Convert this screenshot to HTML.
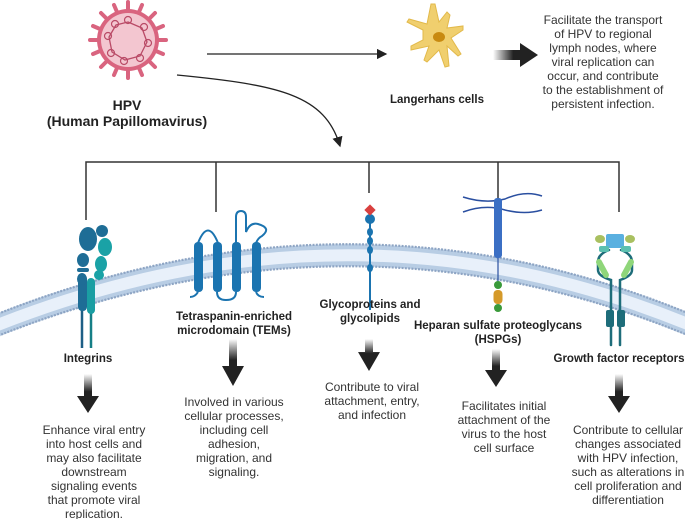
<!DOCTYPE html>
<html><head><meta charset="utf-8"><style>
html,body{margin:0;padding:0;background:#fff}
svg{display:block}
.t{font-family:"Liberation Sans Narrow","Liberation Sans",sans-serif;font-size:12px;fill:#333;text-anchor:middle}
.b{font-family:"Liberation Sans Narrow","Liberation Sans",sans-serif;font-size:11.5px;font-weight:bold;fill:#222;text-anchor:middle}
</style></head><body>
<svg width="685" height="519" viewBox="0 0 685 519" xmlns="http://www.w3.org/2000/svg">
<defs>
<linearGradient id="ag" x1="0" y1="0" x2="0" y2="1"><stop offset="0" stop-color="#fff"/><stop offset="0.45" stop-color="#222"/></linearGradient>
<linearGradient id="agh" x1="0" y1="0" x2="1" y2="0"><stop offset="0" stop-color="#fff"/><stop offset="0.45" stop-color="#222"/></linearGradient>
<marker id="m" markerWidth="8" markerHeight="8" refX="7" refY="4" orient="auto"><path d="M0,0 L8,4 L0,8 z" fill="#222"/></marker>
</defs>

<!-- virus -->
<g transform="translate(128,40)">
<g stroke="#d9647f" stroke-width="4" stroke-linecap="round">
<path d="M0,-38V-30M0,38V30M-38,0H-30M38,0H30M27,27L21,21M-27,-27L-21,-21M27,-27L21,-21M-27,27L-21,21M14,-35L11,-28M-14,35L-11,28M-14,-35L-11,-28M14,35L11,28M35,14L28,11M-35,-14L-28,-11M35,-14L28,-11M-35,14L-28,11"/>
</g>
<circle r="31" fill="#d9647f"/><circle r="27" fill="#f3c6d0"/>
<polygon points="0,-18 14,-12 19,2 12,16 -3,20 -16,12 -19,-3 -12,-15" fill="none" stroke="#b94a66" stroke-width="1.3"/>
<g fill="none" stroke="#b94a66" stroke-width="1.2"><circle cx="0" cy="-20" r="3.5"/><circle cx="16" cy="-13" r="3.5"/><circle cx="20" cy="3" r="3.5"/><circle cx="12" cy="18" r="3.5"/><circle cx="-4" cy="21" r="3.5"/><circle cx="-17" cy="13" r="3.5"/><circle cx="-20" cy="-4" r="3.5"/><circle cx="-13" cy="-16" r="3.5"/></g>
</g>
<text class="b" x="127" y="110" style="font-size:14px">HPV</text>
<text class="b" x="127" y="126" style="font-size:14px">(Human Papillomavirus)</text>

<line x1="207" y1="54" x2="386" y2="54" stroke="#222" stroke-width="1.3" marker-end="url(#m)"/>
<path d="M177,75 C280,85 325,95 340,146" fill="none" stroke="#222" stroke-width="1.3" marker-end="url(#m)"/>

<!-- Langerhans cell -->
<g transform="translate(437,40)" fill="#f0cf6e" stroke="#e2b94a" stroke-width="1">
<path d="M-14,-10 L-30,-18 L-28,-21 L-10,-16 L-6,-36 L-2,-36 L2,-18 L10,-28 L13,-25 L10,-12 L26,-14 L26,-10 L14,-2 L24,14 L21,16 L10,6 L12,26 L8,27 L2,10 L-10,22 L-13,20 L-8,6 L-26,10 L-26,6 L-14,0 z"/>
<ellipse cx="2" cy="-3" rx="6" ry="5" fill="#c88a10" stroke="none"/>
</g>
<text class="b" x="437" y="103">Langerhans cells</text>
<path d="M493,50 H520 V43 L538,55 L520,67 V60 H493 z" fill="url(#agh)"/>

<g class="t">
<text x="603" y="24">Facilitate the transport</text>
<text x="603" y="38">of HPV to regional</text>
<text x="603" y="52">lymph nodes, where</text>
<text x="603" y="66">viral replication can</text>
<text x="603" y="80">occur, and contribute</text>
<text x="603" y="94">to the establishment of</text>
<text x="603" y="108">persistent infection.</text>
</g>

<!-- bracket -->
<g stroke="#333" stroke-width="1.5" fill="none">
<path d="M86,220 V162 H619 V212"/>
<path d="M216,162 V212 M369,162 V193 M498,162 V198"/>
</g>

<!-- membrane -->
<path d="M-5,326 Q350,185 690,325" fill="none" stroke="#b8cde4" stroke-width="22"/>
<path d="M-5,326 Q350,185 690,325" fill="none" stroke="#e8f0fa" stroke-width="12"/>
<path d="M-5,315 Q350,174 690,314" fill="none" stroke="#8ea5c4" stroke-width="2.2" stroke-dasharray="2 1.3"/>
<path d="M-5,337 Q350,196 690,336" fill="none" stroke="#8ea5c4" stroke-width="2.2" stroke-dasharray="2 1.3"/>

<!-- integrin -->
<g>
<line x1="82" y1="300" x2="82" y2="348" stroke="#1e5f86" stroke-width="2.5"/>
<line x1="91" y1="300" x2="91" y2="348" stroke="#167f86" stroke-width="2.5"/>
<rect x="78" y="275" width="9" height="36" rx="4" fill="#1e6d96"/>
<rect x="87" y="278" width="8" height="36" rx="4" fill="#1a9ea3"/>
<ellipse cx="88" cy="239" rx="9" ry="12" fill="#1e6d96"/>
<circle cx="102" cy="231" r="6" fill="#1e6d96"/>
<ellipse cx="105" cy="247" rx="7" ry="9" fill="#1aa2a6"/>
<ellipse cx="83" cy="260" rx="6" ry="7" fill="#1e6d96"/>
<ellipse cx="101" cy="264" rx="6" ry="8" fill="#1aa2a6"/>
<rect x="77" y="268" width="12" height="4" rx="2" fill="#1e6d96"/>
<ellipse cx="82" cy="279" rx="5" ry="6" fill="#1e6d96"/>
<circle cx="99" cy="275" r="5" fill="#1aa2a6"/>
</g>

<!-- TEMs -->
<g fill="#1b74b0">
<rect x="194" y="242" width="9" height="50" rx="4"/>
<rect x="213" y="242" width="9" height="50" rx="4"/>
<rect x="232" y="242" width="9" height="50" rx="4"/>
<rect x="252" y="242" width="9" height="50" rx="4"/>
</g>
<g fill="none" stroke="#1b74b0" stroke-width="2">
<path d="M198,243 Q208,218 218,243"/>
<path d="M236,243 V217 Q236,211 241,211 Q246,211 246,217 V232 Q250,222 258,224 Q272,228 262,236 Q258,238 256,243"/>
<path d="M198,292 Q195,297 190,297 M217,292 Q217,300 226,300 Q236,300 236,292 M256,292 Q258,297 264,297"/>
</g>

<!-- glyco -->
<line x1="370" y1="220" x2="370" y2="310" stroke="#1b74b0" stroke-width="2"/>
<circle cx="370" cy="219" r="5" fill="#1b74b0"/>
<rect x="366" y="206" width="8" height="8" fill="#d9403f" transform="rotate(45 370 210)"/>
<g fill="#1b74b0"><ellipse cx="370" cy="232" rx="3" ry="4"/><ellipse cx="370" cy="241" rx="3" ry="4"/><ellipse cx="370" cy="250" rx="3" ry="4"/><ellipse cx="370" cy="268" rx="3" ry="4"/></g>

<!-- HSPG -->
<path d="M463,197 Q485,204 505,199 Q525,190 542,196 M463,212 Q485,204 505,210 Q525,215 542,210" fill="none" stroke="#2a4fa0" stroke-width="1.5"/>
<rect x="494" y="198" width="8" height="60" rx="3" fill="#3b6fc4"/>
<line x1="498" y1="258" x2="498" y2="283" stroke="#2a4fa0" stroke-width="1.2"/>
<circle cx="498" cy="285" r="4" fill="#3a9a3a"/>
<rect x="493.5" y="290" width="9" height="14" rx="4" fill="#d59a2a"/>
<circle cx="498" cy="308" r="4" fill="#3a9a3a"/>

<!-- growth factor receptor -->
<g fill="none" stroke-linecap="round">
<path d="M609,250 Q598,254 598,262 V270 Q598,276 611,280 V345" stroke="#1e6d7a" stroke-width="2.5"/>
<path d="M621,250 Q632,254 632,262 V270 Q632,276 620,280 V345" stroke="#1e6d7a" stroke-width="2.5"/>
<path d="M599,262 L606,275 M631,262 L624,275" stroke="#8fd67a" stroke-width="6"/>
</g>
<rect x="606" y="310" width="8" height="17" rx="2" fill="#1e6d7a"/>
<rect x="617" y="310" width="8" height="17" rx="2" fill="#1e6d7a"/>
<rect x="606" y="234" width="18" height="14" rx="2" fill="#5ab0e0"/>
<rect x="599" y="246" width="10" height="6" rx="2" fill="#5cc0b0"/><rect x="621" y="246" width="10" height="6" rx="2" fill="#5cc0b0"/>
<ellipse cx="600" cy="239" rx="5" ry="4" fill="#a9c060"/><ellipse cx="630" cy="239" rx="5" ry="4" fill="#a9c060"/>

<!-- labels -->
<text class="b" x="88" y="362">Integrins</text>
<text class="b" x="234" y="320">Tetraspanin-enriched</text>
<text class="b" x="234" y="334">microdomain (TEMs)</text>
<text class="b" x="370" y="308">Glycoproteins and</text>
<text class="b" x="370" y="322">glycolipids</text>
<text class="b" x="498" y="329">Heparan sulfate proteoglycans</text>
<text class="b" x="498" y="343">(HSPGs)</text>
<text class="b" x="619" y="362">Growth factor receptors</text>

<!-- arrows -->
<g fill="url(#ag)">
<path d="M84,374 H92 V396 H99 L88,413 L77,396 H84 z"/>
<path d="M229,339 H237 V366 H244 L233,386 L222,366 H229 z"/>
<path d="M365,339 H373 V352 H380 L369,371 L358,352 H365 z"/>
<path d="M492,349 H500 V370 H507 L496,387 L485,370 H492 z"/>
<path d="M615,374 H623 V396 H630 L619,413 L608,396 H615 z"/>
</g>

<g class="t">
<text x="94" y="434">Enhance viral entry</text>
<text x="94" y="448">into host cells and</text>
<text x="94" y="462">may also facilitate</text>
<text x="94" y="476">downstream</text>
<text x="94" y="490">signaling events</text>
<text x="94" y="504">that promote viral</text>
<text x="94" y="518">replication.</text>

<text x="234" y="406">Involved in various</text>
<text x="234" y="420">cellular processes,</text>
<text x="234" y="434">including cell</text>
<text x="234" y="448">adhesion,</text>
<text x="234" y="462">migration, and</text>
<text x="234" y="476">signaling.</text>

<text x="372" y="391">Contribute to viral</text>
<text x="372" y="405">attachment, entry,</text>
<text x="372" y="419">and infection</text>

<text x="504" y="410">Facilitates initial</text>
<text x="504" y="424">attachment of the</text>
<text x="504" y="438">virus to the host</text>
<text x="504" y="452">cell surface</text>

<text x="628" y="434">Contribute to cellular</text>
<text x="628" y="448">changes associated</text>
<text x="628" y="462">with HPV infection,</text>
<text x="628" y="476">such as alterations in</text>
<text x="628" y="490">cell proliferation and</text>
<text x="628" y="504">differentiation</text>
</g>
</svg>
</body></html>
